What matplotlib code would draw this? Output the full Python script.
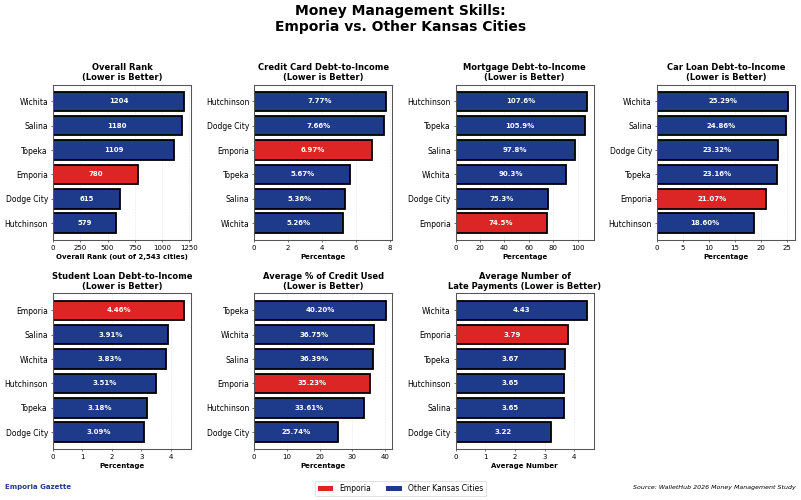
import matplotlib.pyplot as plt
from matplotlib.patches import Patch

# Colours
EMPORIA_RED = '#dc2626'
OTHER_BLUE = '#1e3a8a'

# --- Data ---
overall_cities = ['Wichita', 'Salina', 'Topeka', 'Emporia', 'Dodge City', 'Hutchinson']
overall_rank = [1204, 1180, 1109, 780, 615, 579]

cc_cities = ['Hutchinson', 'Dodge City', 'Emporia', 'Topeka', 'Salina', 'Wichita']
cc_debt = [7.77, 7.66, 6.97, 5.67, 5.36, 5.26]

mortgage_cities = ['Hutchinson', 'Topeka', 'Salina', 'Wichita', 'Dodge City', 'Emporia']
mortgage_debt = [107.6, 105.9, 97.8, 90.3, 75.3, 74.5]

car_cities = ['Wichita', 'Salina', 'Dodge City', 'Topeka', 'Emporia', 'Hutchinson']
car_debt = [25.29, 24.86, 23.32, 23.16, 21.07, 18.60]

student_cities = ['Emporia', 'Salina', 'Wichita', 'Hutchinson', 'Topeka', 'Dodge City']
student_debt = [4.46, 3.91, 3.83, 3.51, 3.18, 3.09]

credit_cities = ['Topeka', 'Wichita', 'Salina', 'Emporia', 'Hutchinson', 'Dodge City']
credit_used = [40.20, 36.75, 36.39, 35.23, 33.61, 25.74]

late_cities = ['Wichita', 'Emporia', 'Topeka', 'Hutchinson', 'Salina', 'Dodge City']
late_payments = [4.43, 3.79, 3.67, 3.65, 3.65, 3.22]

panels = [
    (overall_cities, overall_rank, 'Overall Rank\n(Lower is Better)',
     'Overall Rank (out of 2,543 cities)', '{:.0f}'),
    (cc_cities, cc_debt, 'Credit Card Debt-to-Income\n(Lower is Better)',
     'Percentage', '{:.2f}%'),
    (mortgage_cities, mortgage_debt, 'Mortgage Debt-to-Income\n(Lower is Better)',
     'Percentage', '{:.1f}%'),
    (car_cities, car_debt, 'Car Loan Debt-to-Income\n(Lower is Better)',
     'Percentage', '{:.2f}%'),
    (student_cities, student_debt, 'Student Loan Debt-to-Income\n(Lower is Better)',
     'Percentage', '{:.2f}%'),
    (credit_cities, credit_used, 'Average % of Credit Used\n(Lower is Better)',
     'Percentage', '{:.2f}%'),
    (late_cities, late_payments, 'Average Number of\nLate Payments (Lower is Better)',
     'Average Number', '{:.2f}'),
]

fig, axes = plt.subplots(2, 4, figsize=(16.02, 10), dpi=50)
fig.subplots_adjust(left=0.066, right=0.9925, top=0.831, bottom=0.102,
                    wspace=0.457, hspace=0.343)

for ax, (cities, values, title, xlabel, fmt) in zip(axes.flat, panels):
    colors = [EMPORIA_RED if c == 'Emporia' else OTHER_BLUE for c in cities]
    y = range(len(cities))
    ax.barh(y, values, height=0.8, color=colors, edgecolor='black', linewidth=2.6)
    ax.set_yticks(list(y))
    ax.set_yticklabels(cities, fontsize=11)
    ax.invert_yaxis()
    ax.set_xlim(0, max(values) * 1.05)
    ax.tick_params(axis='x', labelsize=10)
    ax.set_title(title, fontsize=12, fontweight='bold')
    ax.set_xlabel(xlabel, fontsize=10, fontweight='bold')
    ax.grid(axis='x', linestyle='--', alpha=0.3)
    ax.set_axisbelow(True)
    for spine in ax.spines.values():
        spine.set_color('#555555')
        spine.set_linewidth(1.5)
    # value labels in the middle of each bar
    for i, v in enumerate(values):
        ax.text(v / 2, i, fmt.format(v), ha='center', va='center',
                color='white', fontsize=10, fontweight='bold')

# last slot is empty
axes[1, 3].axis('off')

fig.suptitle('Money Management Skills:\nEmporia vs. Other Kansas Cities',
             fontsize=20, fontweight='bold', y=0.992, va='top')

handles = [Patch(facecolor=EMPORIA_RED, label='Emporia'),
           Patch(facecolor=OTHER_BLUE, label='Other Kansas Cities')]
fig.legend(handles=handles, loc='lower center', bbox_to_anchor=(0.5, 0.0),
           ncol=2, fontsize=11, frameon=True)

fig.text(0.006, 0.025, 'Emporia Gazette', fontsize=10, fontweight='bold',
         color=OTHER_BLUE, ha='left', va='center')
fig.text(0.994, 0.025, 'Source: WalletHub 2026 Money Management Study',
         fontsize=9, style='italic', ha='right', va='center')

fig.savefig('out.png', dpi=50)
